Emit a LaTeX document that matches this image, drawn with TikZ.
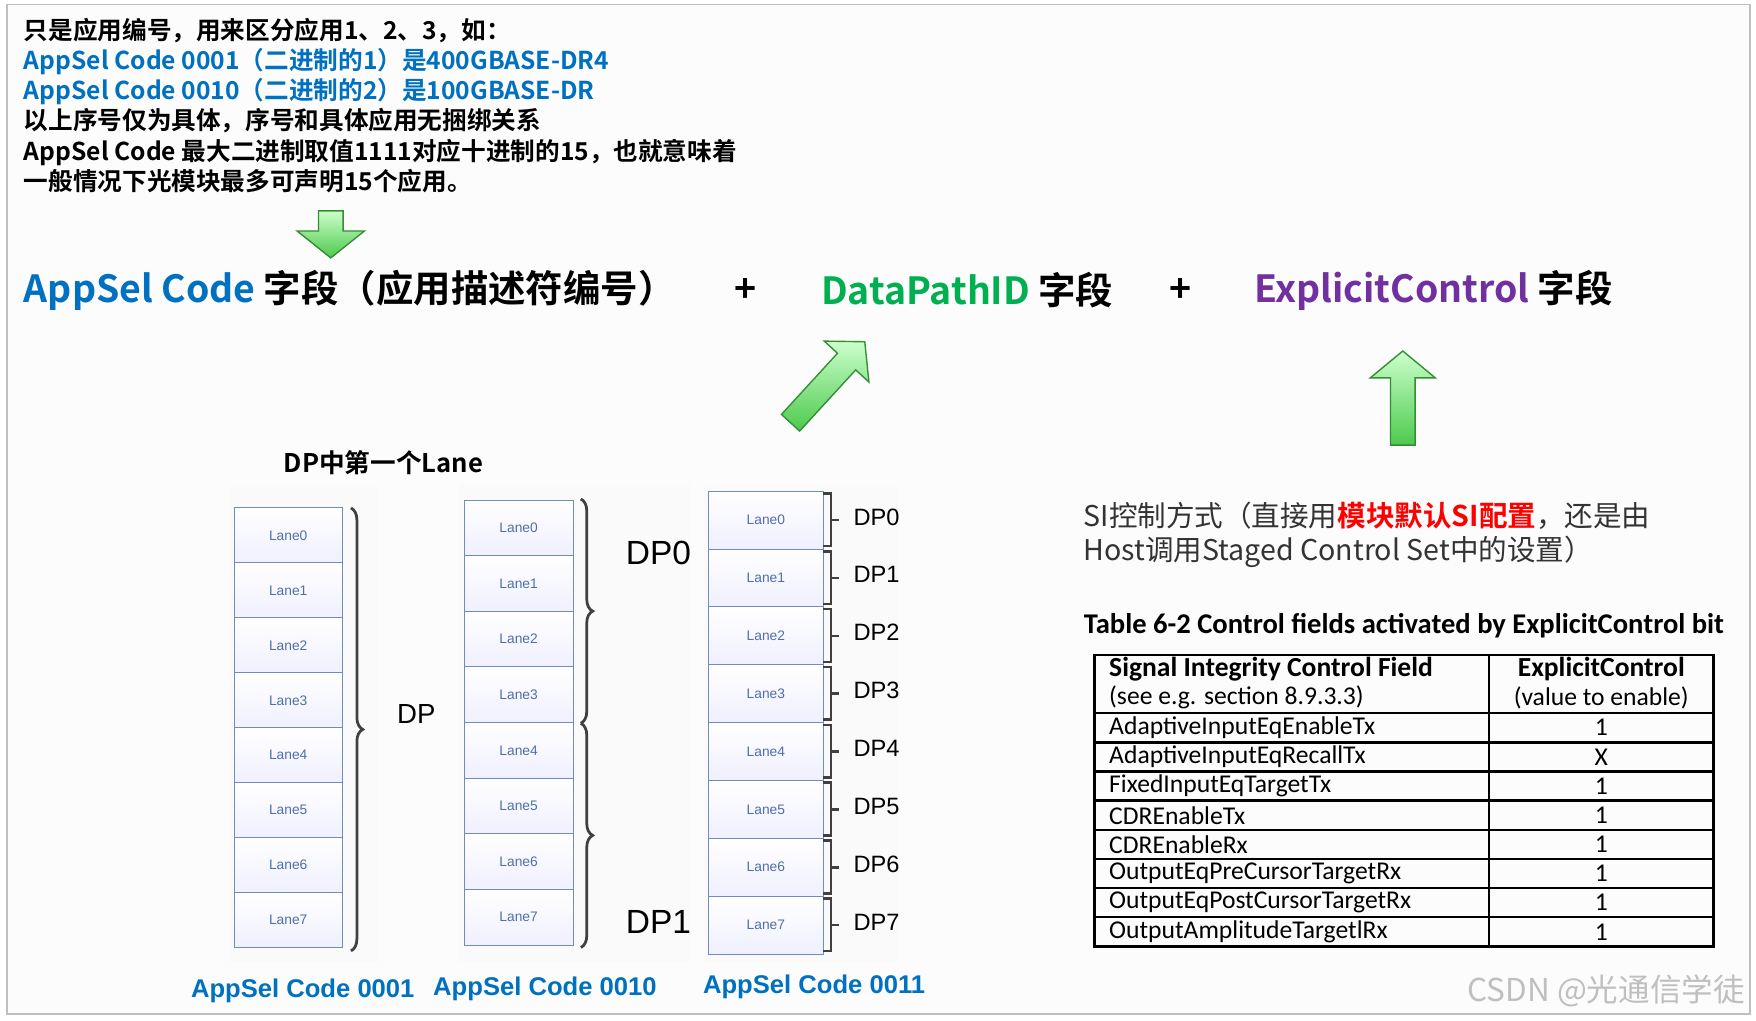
\documentclass[tikz,border=0pt]{standalone}
\usepackage{fontspec}
\setmainfont{Liberation Sans}
\newfontfamily\cjk{Noto Sans CJK SC}
\newfontfamily\cjkb{Noto Sans CJK SC Bold}
\newfontfamily\calib{Carlito}
\usetikzlibrary{decorations.pathreplacing}
\definecolor{ablue}{HTML}{0070C0}
\definecolor{agreen}{HTML}{00B050}
\definecolor{apurple}{HTML}{7030A0}
\definecolor{lanec}{HTML}{4F6FA8}
\tikzset{
 lane/.style={draw=lanec!80,line width=0.5pt,top color=white,bottom color=blue!6},
 lanet/.style={text=lanec,font=\fontsize{7}{8}\selectfont},
 garrow/.style={draw=green!45!black!80,line width=0.7pt,top color=green!20,bottom color=green!70!black!70},
 dpl/.style={font=\fontsize{11}{12}\selectfont,anchor=west},
 trow/.style={font=\calib\fontsize{13}{14}\selectfont,anchor=west},
 brc/.style={decorate,decoration={brace,amplitude=6pt},line width=1.4pt,draw=black!75},
}
\newcommand\blockarrow[3]{% len, shaft half, head half ; head length 24
 \path[garrow] (0,-#2) -- ({#1-24},-#2) -- ({#1-24},-#3) -- (#1,0) -- ({#1-24},#3) -- ({#1-24},#2) -- (0,#2) -- cycle;}
\begin{document}
\begin{tikzpicture}[x=0.02cm,y=-0.02cm]
\useasboundingbox (0,0) rectangle (1566,910);
\fill[white] (0,0) rectangle (1566,910);
\draw[black!25,line width=1pt,fill=black!1] (6,4) rectangle (1561,904);
% top text
\node[anchor=north west,align=left,font=\cjkb\fontsize{12.5}{15.3}\selectfont,inner sep=0pt] (top) at (21,16) {只是应用编号，用来区分应用1、2、3，如：\\
\textcolor{ablue}{AppSel Code 0001（二进制的1）是400GBASE-DR4}\\
\textcolor{ablue}{AppSel Code 0010（二进制的2）是100GBASE-DR}\\
以上序号仅为具体，序号和具体应用无捆绑关系\\
AppSel Code 最大二进制取值1111对应十进制的15，也就意味着\\
一般情况下光模块最多可声明15个应用。};
% main line
\node[anchor=west,font=\cjkb\fontsize{19}{22}\selectfont,inner sep=0pt] (f1) at (21,259) {\textcolor{ablue}{AppSel Code} 字段（应用描述符编号）};
\node[font=\cjkb\fontsize{19}{22}\selectfont] (p1) at (665,259) {+};
\node[anchor=west,font=\cjkb\fontsize{19}{22}\selectfont,inner sep=0pt] (f2) at (732,259) {\textcolor{agreen}{DataPathID} 字段};
\node[font=\cjkb\fontsize{19}{22}\selectfont] (p2) at (1053,259) {+};
\node[anchor=west,font=\cjkb\fontsize{19}{22}\selectfont,inner sep=0pt] (f3) at (1118,259) {\textcolor{apurple}{ExplicitControl} 字段};
% arrows
\begin{scope}[shift={(295,188)},rotate=-90]\blockarrow{42}{11}{30}\end{scope}
\begin{scope}[shift={(705,377)},rotate=47.5]\blockarrow{98}{11}{27}\end{scope}
\begin{scope}[shift={(1251,397)},rotate=90]\blockarrow{84}{11}{29}\end{scope}
% DP label
\node[font=\cjkb\fontsize{13}{15}\selectfont] (dpl) at (342,413) {DP中第一个Lane};
% backgrounds
\fill[black!2] (204,434) rectangle (338,858);
\fill[black!2] (409,432) rectangle (615,858);
\fill[black!2] (628,432) rectangle (800,858);
\foreach \i in {0,...,7}{
 \draw[lane] (209,{453+\i*49}) rectangle (305,{502+\i*49});
 \node[lanet] (c1t\i) at (257,{477.5+\i*49}) {Lane\i};
 \draw[lane] (414,{446+\i*49.6}) rectangle (511,{495.6+\i*49.6});
 \node[lanet] (c2t\i) at (462.5,{470.8+\i*49.6}) {Lane\i};
 \draw[lane] (632,{438+\i*51.6}) rectangle (734,{489.6+\i*51.6});
 \node[lanet] (c3t\i) at (683,{463.8+\i*51.6}) {Lane\i};
 \draw[line width=1.3pt,draw=black!75] (734,{440+\i*51.6}) -- (741,{440+\i*51.6}) -- (741,{487+\i*51.6}) -- (734,{487+\i*51.6});
 \draw[line width=1.3pt,draw=black!75] (741,{463.8+\i*51.6}) -- (748,{463.8+\i*51.6});
 \node[dpl,font=\fontsize{12}{13}\selectfont] (dp\i) at (755,{461+\i*51.6}) {DP\i};
}
\draw[brc] (313,453) -- (313,848);
\node[dpl,font=\fontsize{14}{15}\selectfont] (dpa) at (348,637) {DP};
\draw[brc] (518,445) -- (518,645);
\draw[brc] (518,645) -- (518,845);
\node[dpl,font=\fontsize{17}{18}\selectfont] (dp0b) at (552,493) {DP0};
\node[dpl,font=\fontsize{17}{18}\selectfont] (dp1b) at (552,822) {DP1};
% captions
\node[font=\bfseries\fontsize{13}{14}\selectfont,text=ablue] (cap1) at (270,884) {AppSel Code 0001};
\node[font=\bfseries\fontsize{13}{14}\selectfont,text=ablue] (cap2) at (486,882) {AppSel Code 0010};
\node[font=\bfseries\fontsize{13}{14}\selectfont,text=ablue] (cap3) at (726,880) {AppSel Code 0011};
% SI text
\node[anchor=north west,align=left,font=\cjk\fontsize{14.5}{17.5}\selectfont,inner sep=0pt,text=black!80] (si) at (966,447) {SI控制方式（直接用\textcolor{red}{\cjkb 模块默认SI配置}，还是由\\Host调用Staged Control Set中的设置）};
% table
\node[font=\calib\bfseries\fontsize{14.5}{15}\selectfont] (ttl) at (1252,558) {Table 6-2 Control fields activated by ExplicitControl bit};
\draw[line width=1.2pt] (976,584) rectangle (1528,844);
\draw[line width=1.2pt] (1328,584) -- (1328,844);
\foreach \y in {636,662,688,714,740,766,792,818}{\draw[line width=1.2pt] (976,\y) -- (1528,\y);}
\node[trow,font=\calib\bfseries\fontsize{14}{15}\selectfont] (h1) at (983,597) {Signal Integrity Control Field};
\node[trow] (h1b) at (983,622) {(see e.g. section 8.9.3.3)};
\node[font=\calib\bfseries\fontsize{14}{15}\selectfont] (h2) at (1428,597) {ExplicitControl};
\node[font=\calib\fontsize{13}{14}\selectfont] (h2b) at (1428,622) {(value to enable)};
\foreach \n/\v [count=\k from 0] in {AdaptiveInputEqEnableTx/1,AdaptiveInputEqRecallTx/X,FixedInputEqTargetTx/1,CDREnableTx/1,CDREnableRx/1,OutputEqPreCursorTargetRx/1,OutputEqPostCursorTargetRx/1,OutputAmplitudeTargetlRx/1}{
 \node[trow] (r\k) at (983,{649+\k*26}) {\n};
 \node[font=\calib\fontsize{13}{14}\selectfont] (v\k) at (1428,{649+\k*26}) {\v};
}
\node[font=\cjk\fontsize{16}{18}\selectfont,text=black!25,anchor=east] (wm) at (1562,884) {CSDN @光通信学徒};
\end{tikzpicture}
\end{document}
